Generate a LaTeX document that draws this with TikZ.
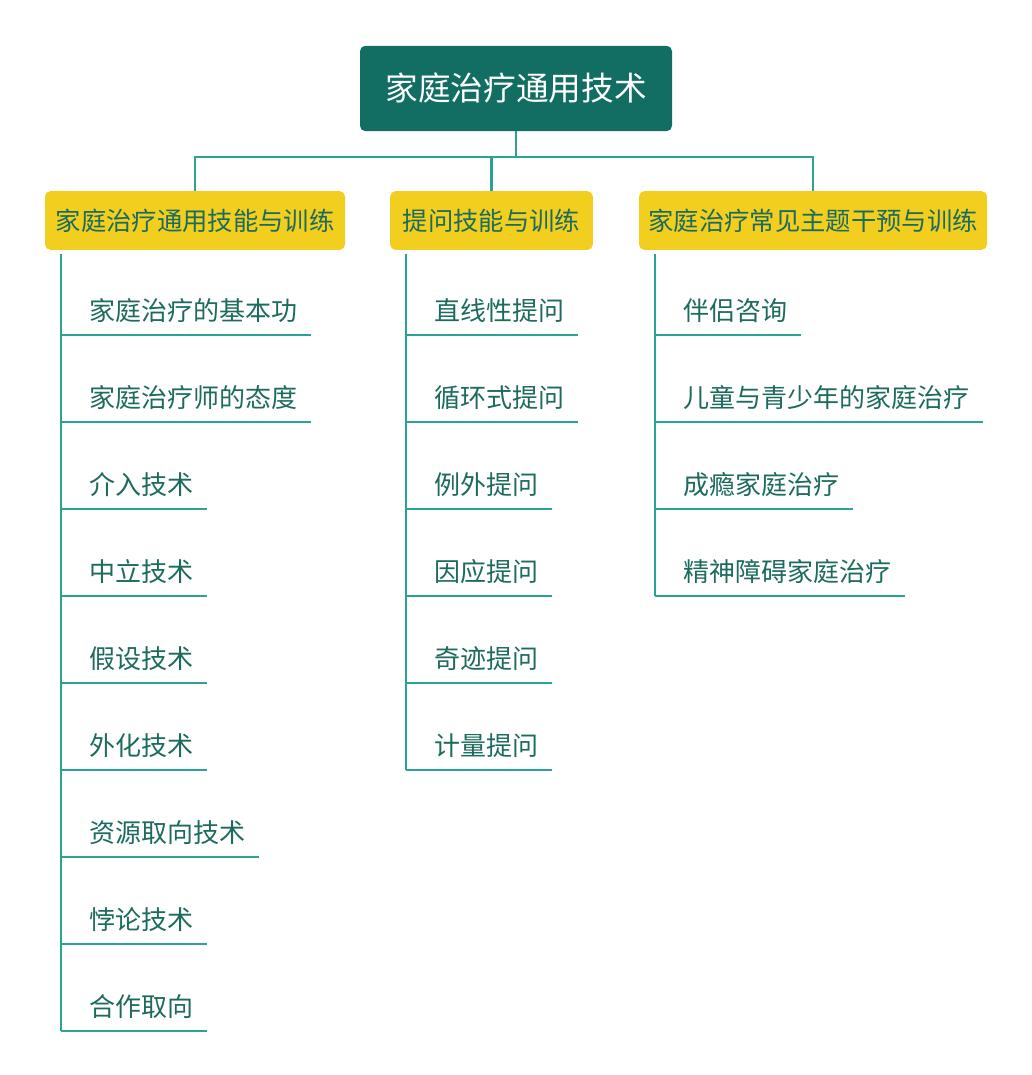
\documentclass[tikz,border=0pt]{standalone}
\usepackage{fontspec}
\newfontfamily\cjk{Noto Sans CJK SC}
\begin{document}
\begin{tikzpicture}[x=0.75pt,y=-0.75pt]
    % Colors
    \definecolor{root color}{HTML}{126E62}
    \definecolor{cat color}{HTML}{F2CF1F}
    \definecolor{text color}{HTML}{1C6B5E}
    \definecolor{line color}{HTML}{2AA396}

    % Styles
    \tikzset{
        root box/.style={fill=root color,rounded corners=4pt,text=white,font=\cjk\fontsize{24.5}{28}\selectfont,minimum width=234pt,minimum height=64pt,inner sep=0pt},
        cat box/.style={fill=cat color,rounded corners=4pt,text=text color,font=\cjk\fontsize{19}{22}\selectfont,minimum height=44pt,inner sep=0pt},
        item/.style={anchor=west,text=text color,font=\cjk\fontsize{19.5}{22}\selectfont,inner sep=0pt},
        link/.style={line color,line width=1.8pt},
        under/.style={line color,line width=0.9pt}
    }

    \useasboundingbox (0,0) rectangle (1032,1075);

    %%% Boxes
    \node[root box] (root) at (516,88.5) {家庭治疗通用技术};
    \node[cat box,minimum width=225pt] (c1) at (195,220.5) {家庭治疗通用技能与训练};
    \node[cat box,minimum width=152pt] (c2) at (491.5,220.5) {提问技能与训练};
    \node[cat box,minimum width=261pt] (c3) at (813,220.5) {家庭治疗常见主题干预与训练};

    \coordinate (split) at (516,157);
    \draw[link] (root.south) -- (split);
    \draw[link] (c1.north) |- (split) -| (c3.north);
    \draw[link] (c2.north) -- (c2.north |- split);
    %%%

    %%% Lists
    \foreach \col/\lx/\items in {
        1/61/{家庭治疗的基本功,家庭治疗师的态度,介入技术,中立技术,假设技术,外化技术,资源取向技术,悖论技术,合作取向},
        2/406/{直线性提问,循环式提问,例外提问,因应提问,奇迹提问,计量提问},
        3/655/{伴侣咨询,儿童与青少年的家庭治疗,成瘾家庭治疗,精神障碍家庭治疗}}
    {
        \foreach \t [count=\i] in \items
        {
            \node[item] (i\col-\i) at (\lx+28,{224+87*\i}) {\t};
            \draw[under] (\lx,{335+87*(\i-1)}) -- ++({0},0) -| ([xshift=10pt]i\col-\i.east |- 0,{335+87*(\i-1)});
            \xdef\last{\i}
        }
        \draw[under] (\lx,254) -- (\lx,{335+87*(\last-1)});
    }
    %%%
\end{tikzpicture}
\end{document}
